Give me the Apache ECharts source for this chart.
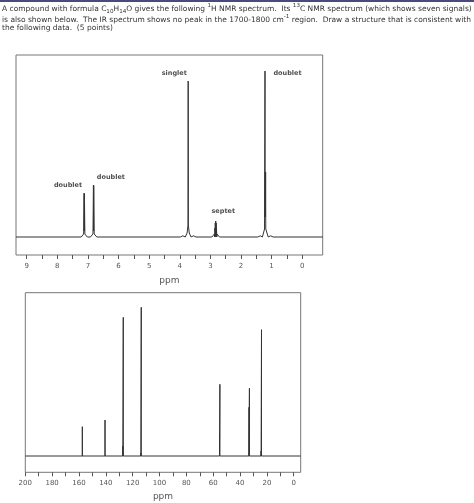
<!DOCTYPE html>
<html><head><meta charset="utf-8">
<script src="https://cdn.jsdelivr.net/npm/echarts@6/dist/echarts.min.js"></script>
<style>html,body{margin:0;padding:0;background:#fff}#c{width:474px;height:503px}</style>
</head><body><div id="c"></div>
<script>
// ---- 1H NMR data (ppm, relative intensity) ----
const hSpectrum = [
  [9.35,0],
  [7.22,0],[7.14,3],[7.125,43.7],[7.12,6],[7.115,43.5],[7.10,3],[7.02,0],
  [6.92,0],[6.835,3],[6.82,52],[6.815,6],[6.81,51.5],[6.795,3],[6.71,0],
  [3.98,0],[3.90,1.2],[3.82,0],
  [3.76,4],[3.73,12],[3.725,156],[3.72,12],[3.69,4],[3.63,0],
  [3.55,1.2],[3.47,0],
  [2.95,0],[2.87,3],[2.855,0],[2.85,9],[2.845,0],[2.84,14],[2.83,0],[2.825,16],[2.82,0],[2.81,14],[2.805,0],[2.80,9],[2.79,0],[2.785,3],[2.70,0],
  [1.45,0],[1.37,1.2],[1.30,0],
  [1.23,8],[1.215,166],[1.21,20],[1.205,65],[1.20,20],[1.195,65],[1.19,8],[1.11,0],
  [1.03,1.2],[0.95,0],
  [-0.67,0]
];
const hLabelTexts = ['doublet','doublet','singlet','septet','doublet'];
const hLabelPpm   = [7.65, 6.25, 4.18, 2.58, 0.48];
const hLabelY     = [51.3, 60, 163.7, 25.7, 163.7];
const hTickLabels = [0,1,2,3,4,5,6,7,8,9];
const hTicks = [0,0.5,1,1.5,2,2.5,3,3.5,4,4.5,5,5.5,6,6.5,7,7.5,8,8.5,9];

// ---- 13C NMR data (ppm, relative intensity) ----
const cPeakPpm    = [157.5, 140.6, 127.3, 127.0, 113.9, 113.6, 55.3, 55.0, 33.3, 33.0, 24.3, 24.0];
const cPeakHeight = [29.3, 36, 10, 138.7, 3, 148.7, 21.7, 71.7, 48.7, 67.7, 5, 126.3];
const cTickLabels = [0,20,40,60,80,100,120,140,160,180,200];
const cTicks = [0,10,20,30,40,50,60,70,80,90,100,110,120,130,140,150,160,170,180,190,200];

// build 13C stick line
const cLine = [[200,0]];
cPeakPpm.forEach((p,i)=>{ cLine.push([p,0],[p,cPeakHeight[i]],[p,0]); });
cLine.push([-5.2,0]);

const hLabelData = hLabelTexts.map((t,i)=>({name:t, value:[hLabelPpm[i], hLabelY[i]]}));

const chart = echarts.init(document.getElementById('c'), null, {renderer:'canvas'});
const axisTxt = {color:'#555', fontSize:7, fontFamily:'DejaVu Sans'};
const FS = 7.5;
const supS = {fontSize:5.6, verticalAlign:'bottom', lineHeight:8, padding:[0,0,4,0]};
const subS = {fontSize:5.6, verticalAlign:'top', lineHeight:8, padding:[4,0,0,0]};
const titleStyle = (txt, y) => ({
  type:'text', left:2, top:y,
  style:{text:txt, fill:'#333', font:FS+'px "DejaVu Sans"',
    rich:{sup:Object.assign({fill:'#333', fontFamily:'DejaVu Sans'}, supS), sub:Object.assign({fill:'#333',fontFamily:'DejaVu Sans'}, subS), n:{fontSize:FS, fontFamily:'DejaVu Sans', fill:'#333'}}}
});

chart.setOption({
  animation:false,
  backgroundColor:'#fff',
  graphic:[
    {type:'rect', shape:{x:0,y:0,width:474,height:2}, style:{fill:'#4b4a7d'}},
    titleStyle('{n|A compound with formula C}{sub|10}{n|H}{sub|14}{n|O gives the following }{sup|1}{n|H NMR spectrum.  Its }{sup|13}{n|C NMR spectrum (which shows seven signals)}', 3),
    titleStyle('{n|is also shown below.  The IR spectrum shows no peak in the 1700-1800 cm}{sup|-1}{n| region.  Draw a structure that is consistent with}', 14),
    titleStyle('{n|the following data.  (5 points)}', 24)
  ],
  grid:[
    {left:16, top:55, width:306.7, height:200, show:true, borderColor:'#777', borderWidth:1, backgroundColor:'#fff'},
    {left:25.3, top:292.7, width:275.4, height:179.6, show:true, borderColor:'#777', borderWidth:1, backgroundColor:'#fff'}
  ],
  xAxis:[
    {gridIndex:0, type:'value', inverse:true, min:-0.67, max:9.35,
     axisLine:{show:false, onZero:false}, splitLine:{show:false},
     axisTick:{show:true, inside:false, length:4, customValues:hTicks, lineStyle:{color:'#555'}},
     axisLabel:Object.assign({customValues:hTickLabels, margin:8}, axisTxt),
     name:'ppm', nameLocation:'middle', nameGap:21, nameTextStyle:{color:'#555', fontSize:9, fontFamily:'DejaVu Sans'}},
    {gridIndex:1, type:'value', inverse:true, min:-5.2, max:200,
     axisLine:{show:false, onZero:false}, splitLine:{show:false},
     axisTick:{show:true, inside:false, length:4, customValues:cTicks, lineStyle:{color:'#555'}},
     axisLabel:Object.assign({customValues:cTickLabels, margin:7}, axisTxt),
     name:'ppm', nameLocation:'middle', nameGap:20, nameTextStyle:{color:'#555', fontSize:9, fontFamily:'DejaVu Sans'}}
  ],
  yAxis:[
    {gridIndex:0, type:'value', min:-18, max:182, show:false},
    {gridIndex:1, type:'value', min:-16.3, max:163.3, show:false}
  ],
  series:[
    {type:'line', xAxisIndex:0, yAxisIndex:0, data:hSpectrum, symbol:'none', lineStyle:{color:'#333', width:1}, silent:true},
    {type:'scatter', xAxisIndex:0, yAxisIndex:0, data:hLabelData, symbolSize:0,
     label:{show:true, position:'inside', formatter:p=>p.name, color:'#222', fontSize:6.5, fontWeight:'bold', fontFamily:'DejaVu Sans'}},
    {type:'line', xAxisIndex:1, yAxisIndex:1, data:cLine, symbol:'none', lineStyle:{color:'#333', width:1}, silent:true}
  ]
});
</script></body></html>
